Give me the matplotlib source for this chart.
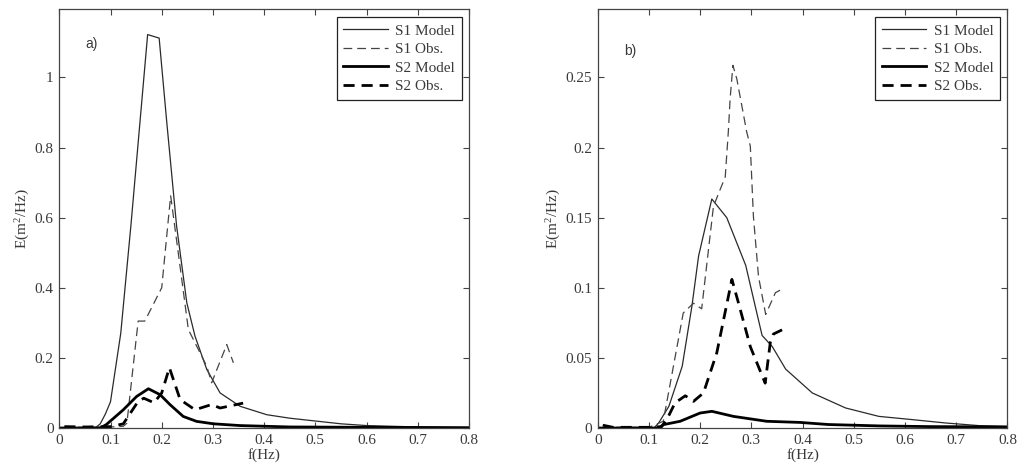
import matplotlib
matplotlib.use("Agg")
import matplotlib.pyplot as plt

# ---------------- data: panel a ----------------
a_s1_model_f = [0.0, 0.07, 0.08, 0.09, 0.10, 0.12, 0.14, 0.1725, 0.195, 0.21, 0.229, 0.249, 0.265,
                0.288, 0.314, 0.353, 0.405, 0.45, 0.50, 0.55, 0.60, 0.70, 0.80]
a_s1_model_E = [0.0, 0.0, 0.012, 0.04, 0.075, 0.27, 0.58, 1.122, 1.112, 0.87, 0.577, 0.357, 0.262,
                0.167, 0.100, 0.062, 0.038, 0.028, 0.020, 0.012, 0.007, 0.003, 0.001]

a_s1_obs_f = [0.01, 0.05, 0.10, 0.125, 0.132, 0.154, 0.167, 0.20, 0.213, 0.2175, 0.235, 0.252,
              0.288, 0.2975, 0.327, 0.34]
a_s1_obs_E = [0.003, 0.002, 0.003, 0.005, 0.014, 0.305, 0.305, 0.40, 0.596, 0.662, 0.47, 0.281,
              0.176, 0.129, 0.238, 0.186]

a_s2_model_f = [0.0, 0.08, 0.092, 0.125, 0.151, 0.174, 0.197, 0.216, 0.242, 0.268, 0.301, 0.353,
                0.45, 0.60, 0.80]
a_s2_model_E = [0.0, 0.0, 0.01, 0.052, 0.09, 0.112, 0.095, 0.067, 0.033, 0.019, 0.012, 0.007,
                0.003, 0.002, 0.001]

a_s2_obs_f = [0.01, 0.05, 0.10, 0.125, 0.154, 0.165, 0.185, 0.20, 0.215, 0.236, 0.265, 0.2975,
              0.314, 0.33, 0.359]
a_s2_obs_E = [0.004, 0.003, 0.004, 0.012, 0.076, 0.085, 0.072, 0.10, 0.172, 0.081, 0.052, 0.067,
              0.057, 0.062, 0.071]

# ---------------- data: panel b ----------------
b_s1_model_f = [0.0, 0.11, 0.119, 0.139, 0.165, 0.184, 0.197, 0.2228, 0.252, 0.289, 0.3075, 0.321,
                0.341, 0.367, 0.419, 0.484, 0.549, 0.614, 0.679, 0.745, 0.80]
b_s1_model_E = [0.0, 0.0, 0.0036, 0.0155, 0.044, 0.087, 0.1227, 0.1633, 0.150, 0.116, 0.087, 0.066,
                0.058, 0.042, 0.025, 0.0143, 0.0083, 0.006, 0.0036, 0.0017, 0.001]

b_s1_obs_f = [0.01, 0.03, 0.10, 0.128, 0.167, 0.187, 0.203, 0.226, 0.239, 0.249, 0.255, 0.2586,
              0.264, 0.2716, 0.291, 0.298, 0.304, 0.314, 0.328, 0.347, 0.36]
b_s1_obs_E = [0.002, 0.0005, 0.0005, 0.0048, 0.082, 0.089, 0.085, 0.158, 0.170, 0.179, 0.211, 0.235,
              0.2586, 0.249, 0.211, 0.201, 0.151, 0.108, 0.081, 0.0965, 0.099]

b_s2_model_f = [0.0, 0.12, 0.128, 0.161, 0.20, 0.223, 0.265, 0.33, 0.395, 0.45, 0.55, 0.65, 0.80]
b_s2_model_E = [0.0, 0.0, 0.0024, 0.0048, 0.0107, 0.0119, 0.0083, 0.0048, 0.004, 0.0025, 0.0015,
                0.001, 0.0008]

b_s2_obs_f = [0.01, 0.03, 0.10, 0.125, 0.138, 0.151, 0.171, 0.187, 0.2065, 0.2325, 0.262, 0.275,
              0.298, 0.327, 0.337, 0.343, 0.36]
b_s2_obs_E = [0.002, 0.0005, 0.0005, 0.001, 0.0083, 0.0179, 0.023, 0.019, 0.025, 0.0536, 0.106,
              0.089, 0.058, 0.032, 0.061, 0.067, 0.070]

x_ticks = [0, 0.1, 0.2, 0.3, 0.4, 0.5, 0.6, 0.7, 0.8]
x_ticklabels = ["0", "0.1", "0.2", "0.3", "0.4", "0.5", "0.6", "0.7", "0.8"]
a_y_ticks = [0, 0.2, 0.4, 0.6, 0.8, 1.0]
a_y_ticklabels = ["0", "0.2", "0.4", "0.6", "0.8", "1"]
b_y_ticks = [0, 0.05, 0.1, 0.15, 0.2, 0.25]
b_y_ticklabels = ["0", "0.05", "0.1", "0.15", "0.2", "0.25"]
legend_labels = ["S1 Model", "S1 Obs.", "S2 Model", "S2 Obs."]

# ---------------- style ----------------
plt.rcParams['font.family'] = ['Liberation Serif', 'DejaVu Serif']
plt.rcParams['mathtext.fontset'] = 'custom'
plt.rcParams['mathtext.rm'] = 'Liberation Serif'
plt.rcParams['mathtext.default'] = 'regular'

TXT = '#3a3a3a'
FS = 11

fig = plt.figure(figsize=(10.24, 4.76), dpi=100)
ax_a = fig.add_axes([0.0579, 0.1008, 0.4001, 0.8803])
ax_b = fig.add_axes([0.5837, 0.1008, 0.4001, 0.8803])

def draw(ax, s1m, s1o, s2m, s2o, ytop, yt, ytl, tag, tagpos):
    ax.plot(s1m[0], s1m[1], color='#2a2a2a', lw=0.9, ls='-', label=legend_labels[0])
    ax.plot(s1o[0], s1o[1], color='#444444', lw=0.9, ls=(0, (7, 4)), label=legend_labels[1])
    ax.plot(s2m[0], s2m[1], color='black', lw=2.0, ls='-', label=legend_labels[2])
    ax.plot(s2o[0], s2o[1], color='black', lw=2.0, ls=(0, (4, 2.5)), label=legend_labels[3])
    ax.set_xlim(0, 0.8)
    ax.set_ylim(0, ytop)
    ax.set_xticks(x_ticks)
    ax.set_xticklabels(x_ticklabels)
    ax.set_yticks(yt)
    ax.set_yticklabels(ytl)
    ax.tick_params(direction='in', top=True, right=True, length=4, width=0.8,
                   labelsize=FS, labelcolor=TXT, color='#444444', pad=4)
    for sp in ax.spines.values():
        sp.set_color('#444444')
        sp.set_linewidth(0.9)
    ax.set_xlabel("f(Hz)", fontsize=FS, color=TXT, labelpad=1)
    ax.set_ylabel("E(m$^2$/Hz)", fontsize=FS, color=TXT, labelpad=2)
    ax.text(tagpos[0], tagpos[1], tag, fontsize=10, color=TXT, family='Liberation Sans',
            transform=ax.transData, va='center', ha='left')
    leg = ax.legend(loc='upper right', bbox_to_anchor=(0.983, 0.981), borderaxespad=0,
                    fontsize=FS, handlelength=2.9, handletextpad=0.5, labelspacing=0.32,
                    borderpad=0.45, fancybox=False, framealpha=1, edgecolor='#222222')
    leg.get_frame().set_linewidth(0.9)
    for t in leg.get_texts():
        t.set_color(TXT)

draw(ax_a, (a_s1_model_f, a_s1_model_E), (a_s1_obs_f, a_s1_obs_E),
     (a_s2_model_f, a_s2_model_E), (a_s2_obs_f, a_s2_obs_E),
     1.195, a_y_ticks, a_y_ticklabels, "a)", (0.05, 1.096))
draw(ax_b, (b_s1_model_f, b_s1_model_E), (b_s1_obs_f, b_s1_obs_E),
     (b_s2_model_f, b_s2_model_E), (b_s2_obs_f, b_s2_obs_E),
     0.2988, b_y_ticks, b_y_ticklabels, "b)", (0.051, 0.269))

fig.savefig("out.png", dpi=100)
